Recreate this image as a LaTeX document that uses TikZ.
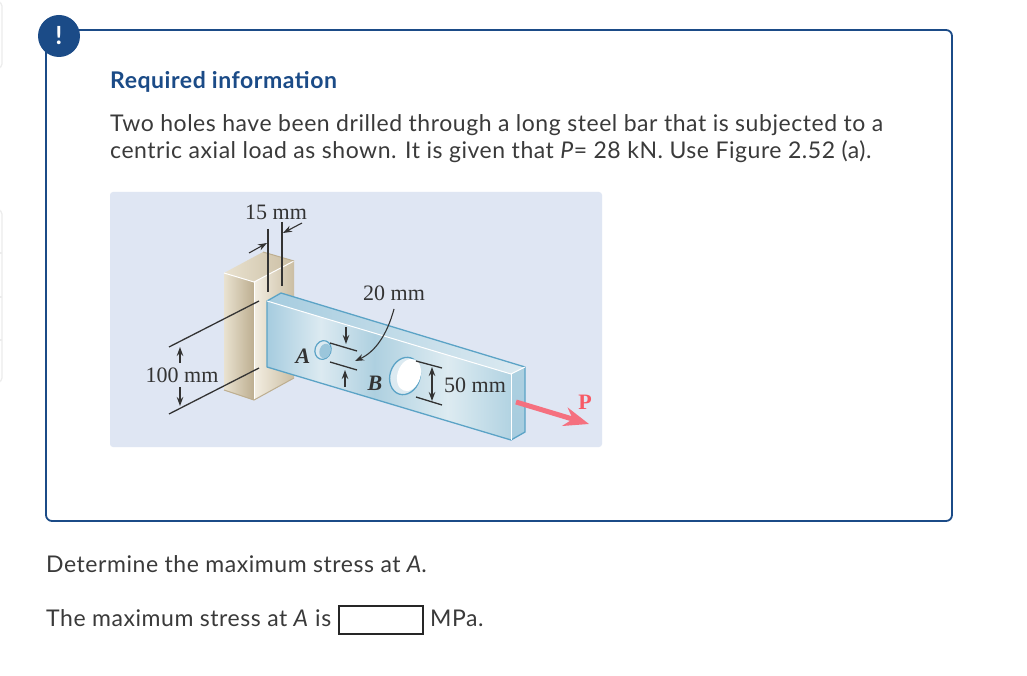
\documentclass[tikz,border=0pt]{standalone}
\usepackage{fontspec}
\setmainfont[LetterSpace=2.4]{Lato}
\newfontfamily\figfont{Liberation Serif}
\usetikzlibrary{arrows.meta}
\definecolor{navy}{HTML}{1B4B87}
\definecolor{panelblue}{HTML}{DFE6F3}
\definecolor{bodytext}{HTML}{3A3A3A}
\definecolor{stubgrey}{HTML}{ECECEC}
\definecolor{barA}{HTML}{A6CCDF}
\definecolor{barB}{HTML}{DCEAF1}
\definecolor{barC}{HTML}{AED0E0}
\definecolor{barD}{HTML}{DDEBF1}
\definecolor{barE}{HTML}{B2D3E2}
\definecolor{tanA}{HTML}{E9E2D0}
\definecolor{tanB}{HTML}{BDAE90}
\definecolor{tanC}{HTML}{F3EEE2}
\definecolor{tanD}{HTML}{CBBEA3}
\definecolor{barline}{HTML}{5BA3C6}
\definecolor{forcepink}{HTML}{F5707F}
\pgfdeclarehorizontalshading{barfront}{100bp}{color(0bp)=(barA); color(25bp)=(barA); color(36bp)=(barB); color(47bp)=(barC); color(62bp)=(barD); color(75bp)=(barE); color(100bp)=(barE)}
\begin{document}
\begin{tikzpicture}[x=1pt,y=-1pt,
	bodylabel/.style={anchor=base west,inner sep=0pt,text=bodytext,font=\fontsize{23}{26}\selectfont},
	figlabel/.style={inner sep=0pt,text=black!80,font=\figfont\fontsize{22}{24}\selectfont},
	dimline/.style={draw=black!80,line width=1.3pt},
	dimarrow/.style={draw=black!80,line width=1.1pt,-{Stealth[length=9pt,width=6.5pt]}},
	stub/.style={draw=stubgrey,line width=1.2pt}]
	\useasboundingbox (0,0) rectangle (1027,676);
	\fill[white] (0,0) rectangle (1027,676);
	\draw[stub,rounded corners=4pt] (0,2) -- (2,2) -- (2,68) -- (0,68);
	\draw[stub,rounded corners=4pt] (0,210) -- (2,210) -- (2,382) -- (0,382);
	\draw[stub] (0,253) -- (2,253);
	\draw[stub] (0,297) -- (2,297);
	\draw[stub] (0,340) -- (2,340);
	\draw[navy,line width=1.8pt,rounded corners=6pt] (46,30) rectangle (952,521);
	\node[circle,fill=navy,minimum size=42pt,inner sep=0pt,text=white,font=\bfseries\fontsize{25}{26}\selectfont] (alert) at (59,36) {!};
	\node[bodylabel,text=navy,font=\bfseries\fontsize{23}{26}\selectfont] (required) at (110,89) {Required information};
	\node[bodylabel] (line1) at (110,132) {Two holes have been drilled through a long steel bar that is subjected to a};
	\node[bodylabel] (line2) at (110,159) {centric axial load as shown. It is given that \textit{P}= 28 kN. Use Figure 2.52 (a).};
	\fill[panelblue,rounded corners=3pt] (110,192) rectangle (602,447);
	\coordinate (c1) at (224,273);
	\coordinate (c2) at (254,282);
	\coordinate (c3) at (294,261);
	\coordinate (c4) at (263,252);
	\coordinate (c5) at (224,390);
	\coordinate (c6) at (254,400);
	\coordinate (c7) at (294,378);
	\shade[left color=tanA,right color=tanB] (c1) -- (c2) -- (c6) -- (c5) -- cycle;
	\shade[left color=tanC,right color=tanD] (c2) -- (c3) -- (c7) -- (c6) -- cycle;
	\shade[left color=tanA,right color=tanD] (c1) -- (c2) -- (c3) -- (c4) -- cycle;
	\draw[white,line width=1pt] (c1) -- (c2) -- (c3);
	\draw[white,line width=1pt] (c2) -- (c6);
	\draw[tanB,line width=1pt] (c5) -- (c6) -- (c7);
	\draw[tanB,line width=1pt] (c4) -- (c3);
	\coordinate (b1) at (267,301);
	\coordinate (b2) at (281,293);
	\coordinate (b3) at (525,367);
	\coordinate (b4) at (511,374);
	\coordinate (b5) at (267,367);
	\coordinate (b6) at (511,440);
	\coordinate (b7) at (525,432);
	\shade[shading=barfront] (b1) -- (b4) -- (b6) -- (b5) -- cycle;
	\shade[left color=barA,right color=barB] (b1) -- (b2) -- (b3) -- (b4) -- cycle;
	\shade[top color=barC,bottom color=barA] (b4) -- (b3) -- (b7) -- (b6) -- cycle;
	\draw[barline,line width=1.3pt,line join=round] (b1) -- (b2) -- (b3) -- (b7) -- (b6) -- (b5) -- cycle;
	\draw[white,line width=1pt] (b1) -- (b4) -- (b3);
	\draw[white,line width=1pt] (b4) -- (b6);
	\draw[barline,fill=barB,line width=1.2pt,rotate around={-18:(323,350)}] (323,350) ellipse (8pt and 9.5pt);
	\fill[barA!85!barline,rotate around={-18:(325,351)}] (325,351) ellipse (5.5pt and 7.5pt);
	\draw[barline,fill=barB,line width=1.3pt,rotate around={-18:(405,376)}] (405,376) ellipse (15pt and 19pt);
	\fill[white,rotate around={-18:(409,375)}] (409,375) ellipse (11.5pt and 16.5pt);
	\draw[dimline] (268,229) -- (268,292);
	\draw[dimline] (282,222) -- (282,286);
	\draw[dimarrow] (249,253) -- (267,243);
	\draw[dimarrow] (302,223) -- (283,233);
	\draw[dimline] (169,347) -- (259,301);
	\draw[dimline] (169,414) -- (259,368);
	\draw[dimarrow] (180,363) -- (180,347);
	\draw[dimarrow] (180,387) -- (180,406);
	\draw[dimline] (330,343) -- (357,351);
	\draw[dimline] (330,362) -- (357,370);
	\draw[dimarrow] (346,327) -- (346,344);
	\draw[dimarrow] (345,387) -- (345,370);
	\draw[dimarrow] (394,309) .. controls (387,335) and (375,352) .. (355,361);
	\draw[dimline] (416,361) -- (442,368);
	\draw[dimline] (416,397) -- (442,405);
	\draw[dimarrow,{Stealth[length=9pt,width=6.5pt]}-{Stealth[length=9pt,width=6.5pt]}] (432,367) -- (432,401);
	\node[figlabel] (w15) at (276,212) {15 mm};
	\node[figlabel] (d20) at (394,293) {20 mm};
	\node[figlabel] (h100) at (182,375) {100 mm};
	\node[figlabel] (h50) at (475,385) {50 mm};
	\node[figlabel,font=\figfont\bfseries\itshape\fontsize{22}{24}\selectfont] (holeA) at (303,356) {A};
	\node[figlabel,font=\figfont\bfseries\itshape\fontsize{22}{24}\selectfont] (holeB) at (375,383) {B};
	\node[figlabel,text=forcepink!80!red,font=\figfont\bfseries\fontsize{22}{24}\selectfont] (forceP) at (585,402) {P};
	\coordinate (pstart) at (516,402);
	\coordinate (ptip) at (589,424);
	\draw[forcepink,line width=5pt,-{Stealth[length=25pt,width=19pt]}] (pstart) -- (ptip);
	\node[bodylabel] (question) at (46,572) {Determine the maximum stress at \textit{A}.};
	\node[bodylabel] (answer) at (46,626) {The maximum stress at \textit{A} is};
	\node[draw=black!85,line width=1.2pt,minimum width=84pt,minimum height=28pt,inner sep=0pt] (entry) at (381,620) {};
	\node[bodylabel] (unit) at (430,626) {MPa.};
\end{tikzpicture}
\end{document}
